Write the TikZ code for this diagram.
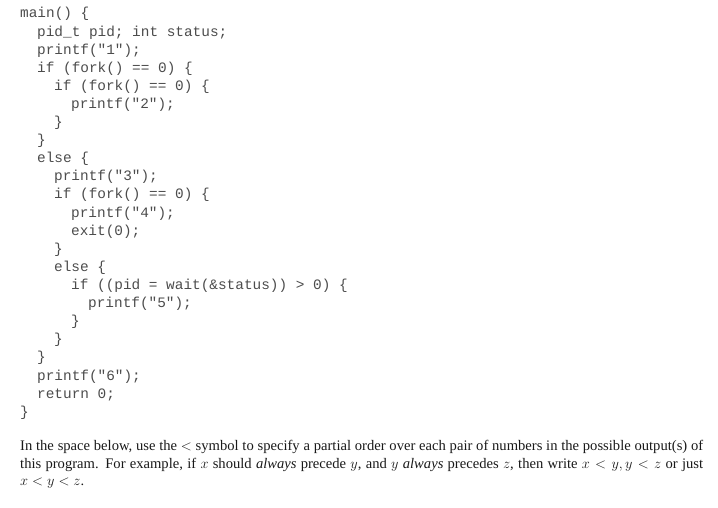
\documentclass[tikz,border=0pt]{standalone}
\usepackage{fontspec}
\setmainfont{Liberation Serif}
\setmonofont{Liberation Mono}
\begin{document}
\begin{tikzpicture}[x=1pt,y=-1pt,
  code/.style={anchor=base west,inner sep=0pt,font=\fontsize{14.4}{16}\ttfamily,text=black!70}]
\useasboundingbox (0,0) rectangle (718,508);
\def\ls{18.1}
\node[code] (l1) at (20,18) {main() \{};
\node[code] (l2) at (37,18+1*\ls) {pid\_t pid; int status;};
\node[code] (l3) at (37,18+2*\ls) {printf("1");};
\node[code] (l4) at (37,18+3*\ls) {if (fork() == 0) \{};
\node[code] (l5) at (54,18+4*\ls) {if (fork() == 0) \{};
\node[code] (l6) at (71,18+5*\ls) {printf("2");};
\node[code] (l7) at (54,18+6*\ls) {\}};
\node[code] (l8) at (37,18+7*\ls) {\}};
\node[code] (l9) at (37,18+8*\ls) {else \{};
\node[code] (l10) at (54,18+9*\ls) {printf("3");};
\node[code] (l11) at (54,18+10*\ls) {if (fork() == 0) \{};
\node[code] (l12) at (71,18+11*\ls) {printf("4");};
\node[code] (l13) at (71,18+12*\ls) {exit(0);};
\node[code] (l14) at (54,18+13*\ls) {\}};
\node[code] (l15) at (54,18+14*\ls) {else \{};
\node[code] (l16) at (71,18+15*\ls) {if ((pid = wait(\&status)) > 0) \{};
\node[code] (l17) at (88,18+16*\ls) {printf("5");};
\node[code] (l18) at (71,18+17*\ls) {\}};
\node[code] (l19) at (54,18+18*\ls) {\}};
\node[code] (l20) at (37,18+19*\ls) {\}};
\node[code] (l21) at (37,18+20*\ls) {printf("6");};
\node[code] (l22) at (37,18+21*\ls) {return 0;};
\node[code] (l23) at (20,18+22*\ls) {\}};
\node[anchor=north west,inner sep=0pt,text width=683pt,align=justify,
  font=\fontsize{14.6}{17.7}\selectfont,text=black!90] (para) at (20,440)
{In the space below, use the $<$ symbol to specify a partial order over each pair of numbers in the possible output(s) of this program. For example, if $x$ should \emph{always} precede $y$, and $y$ \emph{always} precedes $z$, then write $x<y,y<z$ or just $x<y<z$.};
\end{tikzpicture}
\end{document}
